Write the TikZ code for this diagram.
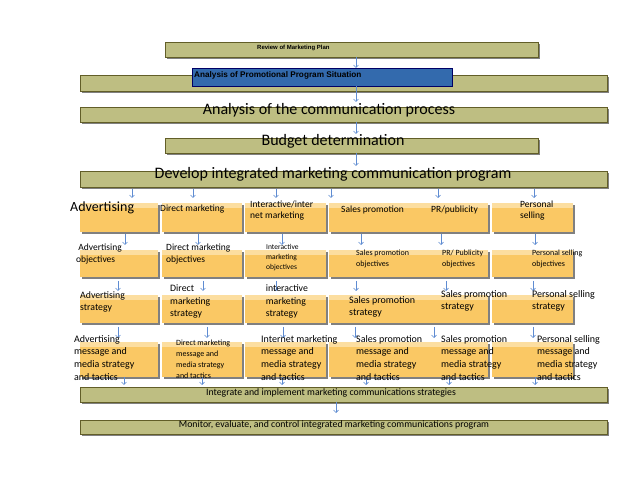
\documentclass[tikz,border=0pt]{standalone}
\usepackage{fontspec}
\usetikzlibrary{arrows.meta}
\setmainfont{Carlito}
\newfontfamily\arial{Liberation Sans}
\definecolor{arrc}{RGB}{95,140,210}
\definecolor{barc}{RGB}{190,190,130}
\definecolor{orc}{RGB}{250,200,100}
\definecolor{orl}{RGB}{252,222,160}
\begin{document}
\begin{tikzpicture}[x=1pt,y=-1pt,
  bar/.style={fill=barc, draw=olive!60!black, line width=0.4pt},
  obox/.style={fill=orc, draw=none},
  shad/.style={fill=black!50},
  arr/.style={draw=arrc, line width=0.6pt, -{Straight Barb[length=2.5pt,width=5pt]}},
  txt/.style={anchor=north west, inner sep=0pt, align=left, text=black},
]
\useasboundingbox (0,0) rectangle (638,478);
\fill[white] (0,0) rectangle (638,478);
% bars
\newcommand{\bbar}[5]{\fill[shad] (#1+2,#2+2) rectangle (#3+2,#4+2);
  \path[bar] (#1,#2) rectangle (#3,#4) coordinate (#5);}
\bbar{165}{42}{538}{57}{b1}
\bbar{80}{75}{607}{91}{b2}
\bbar{80}{107}{607}{122}{b3}
\bbar{165}{138}{538}{153}{b4}
\bbar{80}{171}{607}{187}{b5}
\bbar{80}{387}{607}{402}{b6}
\bbar{80}{420}{607}{434}{b7}
\draw[fill=blue!55!cyan!60!black!80, draw=blue!40!black] (192,68) rectangle (452,86);
\node[txt,font=\arial\bfseries\fontsize{6}{7}\selectfont] (t1) at (257,45) {Review of Marketing Plan};
\node[txt,font=\arial\bfseries\fontsize{8.2}{9}\selectfont] (t2) at (194,71) {Analysis of Promotional Program Situation};
\node[font=\fontsize{16}{17}\selectfont,inner sep=0pt] (t3) at (329,110) {Analysis of the communication process};
\node[font=\fontsize{16}{17}\selectfont,inner sep=0pt] (t4) at (333,141) {Budget determination};
\node[font=\fontsize{16}{17}\selectfont,inner sep=0pt] (t5) at (333,174) {Develop integrated marketing communication program};
\node[font=\fontsize{9.8}{11}\selectfont,inner sep=0pt] (t6) at (331,393) {Integrate and implement marketing communications strategies};
\node[font=\fontsize{9.8}{11}\selectfont,inner sep=0pt] (t7) at (334,425) {Monitor, evaluate, and control integrated marketing communications program};
% orange boxes
\foreach \xa/\xb in {80/158,162/242,245/326,329/408,408/488,492/573}{
  \foreach \ya/\yb in {203/232,250/277,295/323,342/377}{
    \fill[shad] (\xa+2,\ya+2) rectangle (\xb+2,\yb+2);
    \fill[obox] (\xa,\ya) rectangle (\xb,\yb);
    \fill[orl] (\xa,\ya) rectangle (\xb,\ya+5);
  }}
% arrows
\foreach \x in {132,193,276,331,438,534}{\draw[arr] (\x,189) -- (\x,198);}
\foreach \x in {125,198,282,361,441,535}{\draw[arr] (\x,234) -- (\x,245);}
\foreach \x in {118,203,276,356,446,533}{\draw[arr] (\x,281) -- (\x,291);}
\foreach \x in {118,207,283,355,434,533}{\draw[arr] (\x,327) -- (\x,338);}
\foreach \x in {124,202,282,366,449,535}{\draw[arr] (\x,377) -- (\x,385);}
\draw[arr] (356,57) -- (356,68);
\draw[arr] (356,86) -- (356,102);
\draw[arr] (356,122) -- (356,134);
\draw[arr] (356,153) -- (356,166);
\draw[arr] (336,402) -- (336,413);
% texts row1
\node[txt,font=\fontsize{14}{15}\selectfont] (r11) at (70,202) {Advertising};
\node[txt,font=\fontsize{9.5}{10.5}\selectfont] (r12) at (160,205) {Direct marketing};
\node[txt,font=\fontsize{9.5}{11}\selectfont] (r13) at (250,201) {Interactive/inter\\net marketing};
\node[txt,font=\fontsize{9.5}{10.5}\selectfont] (r14) at (341,206) {Sales promotion};
\node[txt,font=\fontsize{9.5}{10.5}\selectfont] (r15) at (431,206) {PR/publicity};
\node[txt,font=\fontsize{9.5}{11}\selectfont] (r16) at (520,201) {Personal\\selling};
% row2
\node[txt,font=\fontsize{9.5}{12}\selectfont] (r21) at (76,244) {\ Advertising\\objectives};
\node[txt,font=\fontsize{9.5}{12}\selectfont] (r22) at (166,244) {Direct marketing\\objectives};
\node[txt,font=\fontsize{7.5}{10}\selectfont] (r23) at (266,244) {Interactive\\marketing\\objectives};
\node[txt,font=\fontsize{8}{11}\selectfont] (r24) at (356,250) {Sales promotion\\objectives};
\node[txt,font=\fontsize{8}{11}\selectfont] (r25) at (442,250) {PR/ Publicity\\objectives};
\node[txt,font=\fontsize{8}{11}\selectfont] (r26) at (532,250) {Personal selling\\objectives};
% row3
\node[txt,font=\fontsize{9.8}{12.5}\selectfont] (r31) at (80,291) {Advertising\\strategy};
\node[txt,font=\fontsize{9.8}{12.5}\selectfont] (r32) at (170,285) {Direct\\marketing\\strategy};
\node[txt,font=\fontsize{9.8}{12.5}\selectfont] (r33) at (264,285) {\,interactive\\\,marketing\\\,strategy};
\node[txt,font=\fontsize{10}{12.5}\selectfont] (r34) at (349,296) {Sales promotion\\strategy};
\node[txt,font=\fontsize{10}{12.5}\selectfont] (r35) at (441,290) {Sales promotion\\strategy};
\node[txt,font=\fontsize{10}{12.5}\selectfont] (r36) at (532,290) {Personal selling\\strategy};
% row4
\node[txt,font=\fontsize{10}{12.7}\selectfont] (r41) at (74,335) {Advertising\\message and\\media strategy\\and tactics};
\node[txt,font=\fontsize{8}{11}\selectfont] (r42) at (176,340) {Direct marketing\\message and\\media strategy\\and tactics};
\node[txt,font=\fontsize{10}{12.7}\selectfont] (r43) at (261,335) {Internet marketing\\message and\\media strategy\\and tactics};
\node[txt,font=\fontsize{10}{12.7}\selectfont] (r44) at (356,335) {Sales promotion\\message and\\media strategy\\and tactics};
\node[txt,font=\fontsize{10}{12.7}\selectfont] (r45) at (441,335) {Sales promotion\\message and\\media strategy\\and tactics};
\node[txt,font=\fontsize{10}{12.7}\selectfont] (r46) at (537,335) {Personal selling\\message and\\media strategy\\and tactics};
\end{tikzpicture}
\end{document}
